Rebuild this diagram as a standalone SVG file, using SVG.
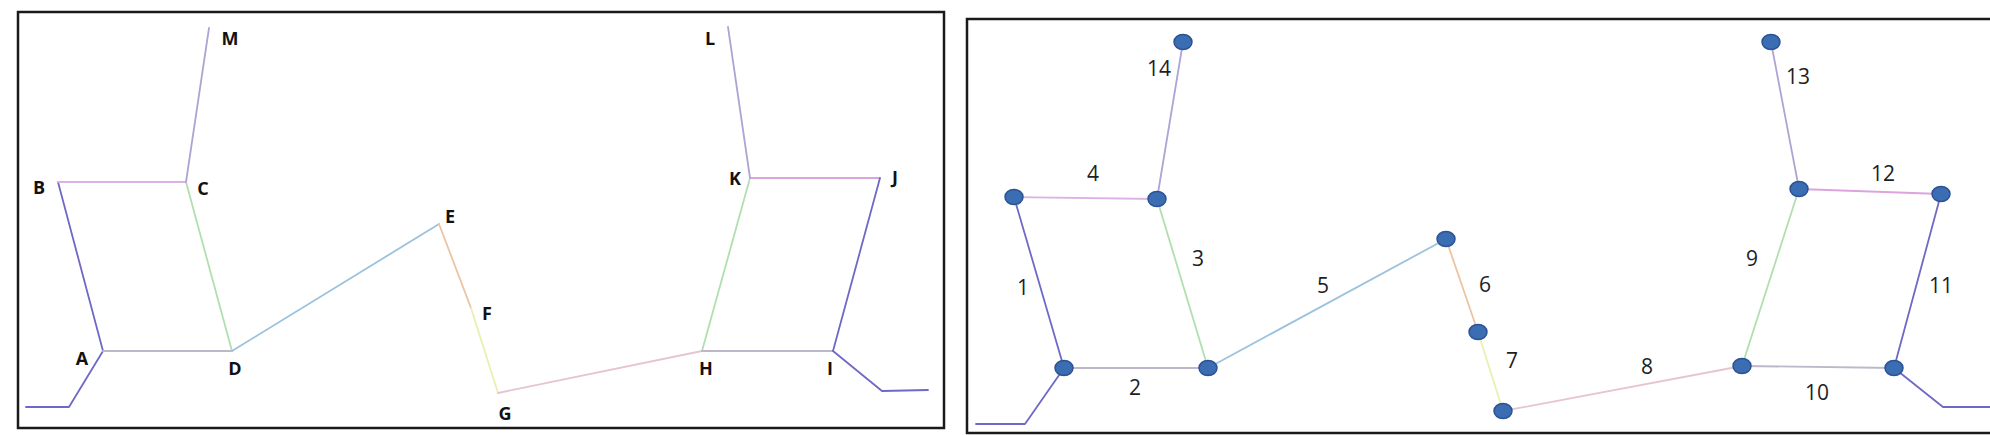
<svg xmlns="http://www.w3.org/2000/svg" width="1990" height="435" viewBox="0 0 1990 435">
<style>
.frame{fill:none;stroke:#1a1a1a;stroke-width:2.5}
.e{fill:none;stroke-width:1.8;stroke-linecap:round;stroke-linejoin:round}
.c1{stroke:#6e69c6}
.c2{stroke:#bdb7c9}
.c3{stroke:#b0e0b0}
.c4{stroke:#dcb2e4}
.c5{stroke:#9cc2de}
.c6{stroke:#ecc4a2}
.c7{stroke:#eaefb2}
.c8{stroke:#e6c4d0}
.c12{stroke:#dca4dc}
.c13{stroke:#aea4d4}
.lt{font-family:"Open Sans","Liberation Sans",sans-serif;font-weight:bold;font-size:18px;fill:#111;text-anchor:middle;dominant-baseline:central}
.nt{font-family:"Open Sans","Liberation Sans",sans-serif;font-size:21px;fill:#1e1e1e;text-anchor:middle;dominant-baseline:central}
.n{fill:#3b6db2;stroke:#2c5294;stroke-width:1.5}
</style>
<rect x="0" y="0" width="1990" height="435" fill="#ffffff"/>
<rect class="frame" x="18" y="12" width="926" height="416"/>
<rect class="frame" x="967" y="19" width="1040" height="414"/>

<g id="connectors">
  <!-- left panel -->
  <polyline class="e c1" points="26,407 69,407 103,351"/>
  <line class="e c1" x1="58" y1="182" x2="103" y2="351"/>
  <line class="e c2" x1="103" y1="351" x2="232" y2="351"/>
  <line class="e c3" x1="186" y1="182" x2="232" y2="351"/>
  <line class="e c4" x1="58" y1="182" x2="186" y2="182"/>
  <line class="e c13" x1="209" y1="28" x2="186" y2="182"/>
  <line class="e c5" x1="232" y1="351" x2="439" y2="224"/>
  <line class="e c6" x1="439" y1="224" x2="471" y2="308"/>
  <line class="e c7" x1="471" y1="308" x2="498" y2="393"/>
  <line class="e c8" x1="498" y1="393" x2="702" y2="351"/>
  <line class="e c3" x1="702" y1="351" x2="750" y2="178"/>
  <line class="e c2" x1="702" y1="351" x2="833" y2="351"/>
  <line class="e c12" x1="750" y1="178" x2="880" y2="178"/>
  <line class="e c1" x1="880" y1="178" x2="833" y2="351"/>
  <line class="e c13" x1="728" y1="27" x2="750" y2="178"/>
  <polyline class="e c1" points="833,351 882,391 928,390"/>
  <!-- right panel -->
  <polyline class="e c1" points="976,424 1025,424 1064,368"/>
  <line class="e c1" x1="1014" y1="197" x2="1064" y2="368"/>
  <line class="e c2" x1="1064" y1="368" x2="1208" y2="368"/>
  <line class="e c3" x1="1157" y1="199" x2="1208" y2="368"/>
  <line class="e c4" x1="1014" y1="197" x2="1157" y2="199"/>
  <line class="e c13" x1="1183" y1="42" x2="1157" y2="199"/>
  <line class="e c5" x1="1208" y1="368" x2="1446" y2="239"/>
  <line class="e c6" x1="1446" y1="239" x2="1478" y2="332"/>
  <line class="e c7" x1="1478" y1="332" x2="1503" y2="411"/>
  <line class="e c8" x1="1503" y1="411" x2="1742" y2="366"/>
  <line class="e c3" x1="1742" y1="366" x2="1799" y2="189"/>
  <line class="e c2" x1="1742" y1="366" x2="1894" y2="368"/>
  <line class="e c12" x1="1799" y1="189" x2="1941" y2="194"/>
  <line class="e c1" x1="1941" y1="194" x2="1894" y2="368"/>
  <line class="e c13" x1="1771" y1="42" x2="1799" y2="189"/>
  <polyline class="e c1" points="1894,368 1943,407 1992,407"/>
</g>

<g id="labels-left">
  <text class="lt" x="230" y="38">M</text>
  <text class="lt" x="203" y="188">C</text>
  <text class="lt" x="39" y="187">B</text>
  <text class="lt" x="82" y="358">A</text>
  <text class="lt" x="235" y="368">D</text>
  <text class="lt" x="450" y="216">E</text>
  <text class="lt" x="487" y="313">F</text>
  <text class="lt" x="505" y="413">G</text>
  <text class="lt" x="706" y="368">H</text>
  <text class="lt" x="830" y="368">I</text>
  <text class="lt" x="895" y="177">J</text>
  <text class="lt" x="735" y="178">K</text>
  <text class="lt" x="710" y="38">L</text>
</g>

<g id="nodes-right">
  <g id="node-B"><ellipse class="n" cx="1014" cy="197" rx="9" ry="7.5"/></g>
  <g id="node-C"><ellipse class="n" cx="1157" cy="199" rx="9" ry="7.5"/></g>
  <g id="node-M"><ellipse class="n" cx="1183" cy="42" rx="9" ry="7.5"/></g>
  <g id="node-A"><ellipse class="n" cx="1064" cy="368" rx="9" ry="7.5"/></g>
  <g id="node-D"><ellipse class="n" cx="1208" cy="368" rx="9" ry="7.5"/></g>
  <g id="node-E"><ellipse class="n" cx="1446" cy="239" rx="9" ry="7.5"/></g>
  <g id="node-F"><ellipse class="n" cx="1478" cy="332" rx="9" ry="7.5"/></g>
  <g id="node-G"><ellipse class="n" cx="1503" cy="411" rx="9" ry="7.5"/></g>
  <g id="node-H"><ellipse class="n" cx="1742" cy="366" rx="9" ry="7.5"/></g>
  <g id="node-I"><ellipse class="n" cx="1894" cy="368" rx="9" ry="7.5"/></g>
  <g id="node-J"><ellipse class="n" cx="1941" cy="194" rx="9" ry="7.5"/></g>
  <g id="node-K"><ellipse class="n" cx="1799" cy="189" rx="9" ry="7.5"/></g>
  <g id="node-L"><ellipse class="n" cx="1771" cy="42" rx="9" ry="7.5"/></g>
</g>

<g id="labels-right">
  <text class="nt" x="1159" y="68">14</text>
  <text class="nt" x="1093" y="173">4</text>
  <text class="nt" x="1023" y="287">1</text>
  <text class="nt" x="1198" y="258">3</text>
  <text class="nt" x="1135" y="387">2</text>
  <text class="nt" x="1323" y="285">5</text>
  <text class="nt" x="1485" y="284">6</text>
  <text class="nt" x="1512" y="360">7</text>
  <text class="nt" x="1647" y="366">8</text>
  <text class="nt" x="1752" y="258">9</text>
  <text class="nt" x="1817" y="392">10</text>
  <text class="nt" x="1941" y="285">11</text>
  <text class="nt" x="1883" y="173">12</text>
  <text class="nt" x="1798" y="76">13</text>
</g>
</svg>
